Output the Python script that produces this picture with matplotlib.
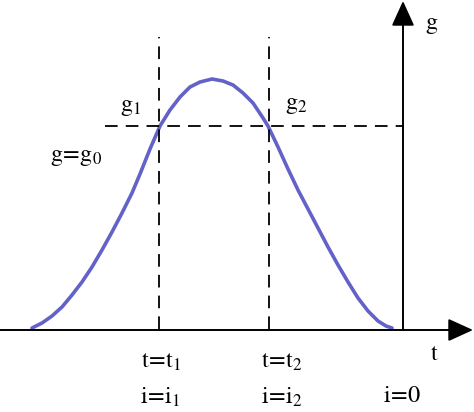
import numpy as np
import matplotlib.pyplot as plt

plt.rcParams['mathtext.fontset'] = 'stix'
plt.rcParams['font.family'] = ['Liberation Serif', 'DejaVu Serif']

# curve (t in px along the axis, g = height above the t axis)
t = [32, 42, 52, 62, 72, 82, 92, 102, 112, 122, 132, 140, 150, 160, 170, 180,
     190, 200, 212, 223, 233, 243, 253, 263, 268, 278, 288, 298, 308, 318, 328,
     338, 348, 358, 368, 378, 386, 392]
g = [1, 6, 13, 22, 34, 47, 62, 79, 97, 116, 136, 155, 180, 203, 219, 232,
     242, 247, 250, 248, 244, 236, 226, 211, 203, 182, 160, 139, 120, 101, 82,
     64, 47, 31, 18, 8, 3, 1]

t1, t2 = 159, 269
g0 = 203
t_axis_end = 474
g_axis_pos = 403
g_axis_end = 330

fig = plt.figure(figsize=(4.74, 4.12), dpi=100)
ax = fig.add_axes([0, 0, 1, 1])
ax.set_xlim(0, 474)
ax.set_ylim(-83, 329)
ax.axis('off')

ax.plot(t, g, color='#6262c8', lw=2.6, solid_capstyle='round', solid_joinstyle='round')

# dashed guides
dash = (0, (7, 4.5))
ax.plot([t1, t1], [0, 292], color='black', lw=1.3, linestyle=dash)
ax.plot([t2, t2], [0, 292], color='black', lw=1.3, linestyle=dash)
ax.plot([105, g_axis_pos], [g0, g0], color='black', lw=1.3, linestyle=dash)

# axes with arrows
arrow = dict(arrowstyle='-|>,head_length=1.1,head_width=0.5', mutation_scale=14,
             color='black', lw=1.4, shrinkA=0, shrinkB=0)
ax.annotate('', xy=(t_axis_end - 1, -1), xytext=(0, -1), arrowprops=arrow)
ax.annotate('', xy=(g_axis_pos, g_axis_end - 2), xytext=(g_axis_pos, -1), arrowprops=arrow)

fs = 17.5
labels = [
    (432, 304, r'$\mathrm{g}$'),
    (434, -25, r'$\mathrm{t}$'),
    (131, 222, r'$\mathrm{g_1}$'),
    (296, 224, r'$\mathrm{g_2}$'),
    (76, 172, r'$\mathrm{g\!=\!g_0}$'),
    (161, -33, r'$\mathrm{t\!=\!t_1}$'),
    (282, -33, r'$\mathrm{t\!=\!t_2}$'),
    (160, -68, r'$\mathrm{i\!=\!i_1}$'),
    (282, -68, r'$\mathrm{i\!=\!i_2}$'),
    (402, -68, r'$\mathrm{i\!=\!0}$'),
]
for x, y, s in labels:
    ax.text(x, y, s, fontsize=fs, ha='center', va='center')

fig.savefig('out.png', dpi=100)
